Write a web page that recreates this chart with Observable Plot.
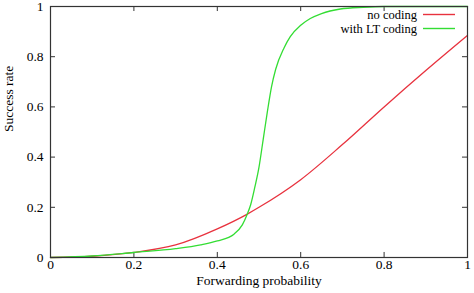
<!DOCTYPE html>
<html>
<head>
<meta charset="utf-8">
<script src="https://cdn.jsdelivr.net/npm/d3@7"></script>
<script src="https://cdn.jsdelivr.net/npm/@observablehq/plot@0.6"></script>
<style>
  html, body { margin: 0; padding: 0; background: #fff; }
  #wrap { width: 474px; height: 293px; }
</style>
</head>
<body>
<div id="wrap"></div>
<script>
// Data
const xNoCoding = [0, 0.1, 0.2, 0.3, 0.4, 0.472, 0.5, 0.6, 0.7, 0.8, 0.9, 1];
const yNoCoding = [0, 0.005, 0.02, 0.05, 0.114, 0.173, 0.2, 0.31, 0.45, 0.6, 0.745, 0.885];

const xLT = [0, 0.1, 0.2, 0.3, 0.36, 0.4, 0.44, 0.46, 0.472, 0.48, 0.49, 0.5, 0.51, 0.52, 0.53, 0.54, 0.56, 0.575, 0.6, 0.623, 0.65, 0.695, 0.75, 0.8, 0.9, 1];
const yLT = [0, 0.006, 0.02, 0.035, 0.05, 0.066, 0.093, 0.13, 0.173, 0.21, 0.28, 0.36, 0.47, 0.58, 0.68, 0.75, 0.835, 0.88, 0.925, 0.952, 0.972, 0.99, 0.997, 1, 1, 1];

const xTicks = [0, 0.2, 0.4, 0.6, 0.8, 1];
const yTicks = [0, 0.2, 0.4, 0.6, 0.8, 1];
const seriesNames = ["no coding", "with LT coding"];
const seriesColors = ["#e8323e", "#33dd33"];

const noCoding = xNoCoding.map((x, i) => ({x, y: yNoCoding[i]}));
const lt = xLT.map((x, i) => ({x, y: yLT[i]}));

const font = "'Liberation Serif', 'DejaVu Serif', serif";
const ink = "#333";
const chart = Plot.plot({
  width: 474,
  height: 293,
  marginLeft: 50,
  marginRight: 7,
  marginTop: 6,
  marginBottom: 36,
  style: {fontFamily: font, fontSize: "13.5px", background: "#fff", color: "#000"},
  x: {domain: [0, 1]},
  y: {domain: [0, 1]},
  marks: [
    Plot.axisX(xTicks, {tickSize: 0, tickPadding: 2, tickFormat: d => String(d), fontSize: 13.5, label: null}),
    Plot.axisY(yTicks, {tickSize: 0, tickPadding: 7, tickFormat: d => String(d), fontSize: 13.5, label: null}),
    Plot.ruleX(xTicks, {x: d => d, y1: 0, y2: 0.02, stroke: ink}),
    Plot.ruleX(xTicks, {x: d => d, y1: 0.98, y2: 1, stroke: ink}),
    Plot.ruleY(yTicks, {y: d => d, x1: 0, x2: 0.012, stroke: ink}),
    Plot.ruleY(yTicks, {y: d => d, x1: 0.988, x2: 1, stroke: ink}),
    Plot.line(noCoding, {x: "x", y: "y", stroke: seriesColors[0], strokeWidth: 1.3, curve: "monotone-x"}),
    Plot.line(lt, {x: "x", y: "y", stroke: seriesColors[1], strokeWidth: 1.3, curve: "monotone-x"}),
    Plot.frame({stroke: ink, strokeWidth: 1.2}),
    Plot.text(["Forwarding probability"], {frameAnchor: "bottom", text: d => d, dy: 27, fontSize: 13.5, fill: "#000"}),
    Plot.text(["Success rate"], {frameAnchor: "left", text: d => d, rotate: -90, dx: -42, fontSize: 13.5, fill: "#000"})
  ]
});

// In-plot legend (gnuplot style, top-right)
const svg = d3.select(chart);
const lg = svg.append("g").attr("font-family", font).attr("font-size", 12.5);
seriesNames.forEach((name, i) => {
  const cy = 14.5 + i * 14;
  lg.append("text")
    .attr("x", 417).attr("y", cy).attr("dy", "0.32em")
    .attr("text-anchor", "end").attr("fill", "#000")
    .text(name);
  lg.append("line")
    .attr("x1", 423).attr("x2", 455).attr("y1", cy).attr("y2", cy)
    .attr("stroke", seriesColors[i]).attr("stroke-width", 1.4);
});

document.getElementById("wrap").appendChild(chart);
</script>
</body>
</html>
